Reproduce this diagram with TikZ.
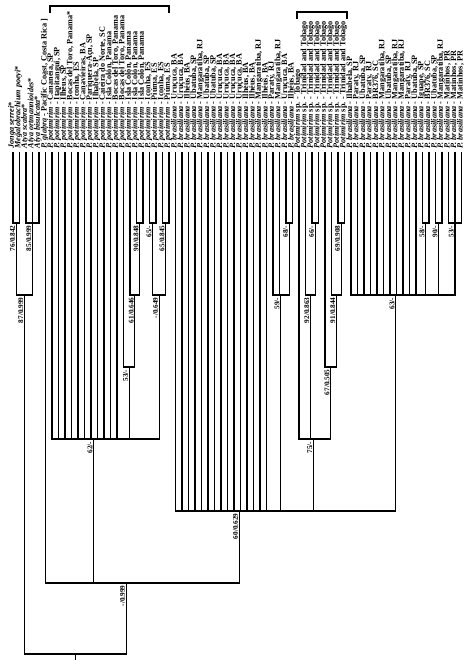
\documentclass[tikz,border=0pt]{standalone}
\usepackage{fontspec}
\setmainfont{Liberation Serif}
\usetikzlibrary{calc}
\tikzset{
    every picture/.style={line join=miter},
    branch/.style={draw=black,line width=1.2pt},
    taxon/.style={rotate=90,anchor=west,inner sep=0.5pt,
      font=\fontsize{8.2}{8.2}\selectfont\bfseries},
    support/.style={rotate=90,anchor=south east,inner xsep=2.5pt,inner ysep=1pt,
      font=\fontsize{7.2}{7.2}\selectfont\bfseries},
    clade/.style={draw=black,line width=1.2pt}
}

\begin{document}
\begin{tikzpicture}[x=1pt,y=-1pt]
  \useasboundingbox (0,0) rectangle (474,668);
  \foreach \i/\txt in {
    0/{\textit{Jonga serrei}*},
    1/{\textit{Megalobrachium poeyi}*},
    2/{\textit{Atya scabra}*},
    3/{\textit{Atya ortmannioides}*},
    4/{\textit{Atya bisulcata}*},
    5/{\textit{P. glabra} - Pacific Coast, Costa Rica ]},
    6/{\textit{P. potimirim} - Cananéia, SP},
    7/{\textit{P. potimirim} - Itapitangui, SP},
    8/{\textit{P. potimirim} - Ilhéus, SP},
    9/{\textit{P. potimirim} - Bocas del Toro, Panama*},
    10/{\textit{P. potimirim} - Iconha, ES},
    11/{\textit{P. potimirim} - Canavieiras, BA},
    12/{\textit{P. potimirim} - Pariquera-Açu, SP},
    13/{\textit{P. potimirim} - Ilhabela, SP},
    14/{\textit{P. potimirim} - Caieira do Norte, SC},
    15/{\textit{P. potimirim} - Isla Colón, Panama},
    16/{\textit{P. potimirim} - Bocas del Toro, Panama},
    17/{\textit{P. potimirim} - Bocas del Toro, Panama},
    18/{\textit{P. potimirim} - Isla Colón, Panama},
    19/{\textit{P. potimirim} - Isla Colón, Panama},
    20/{\textit{P. potimirim} - Isla Colón, Panama},
    21/{\textit{P. potimirim} - Iconha, ES},
    22/{\textit{P. potimirim} - Piúma, ES},
    23/{\textit{P. potimirim} - Iconha, ES},
    24/{\textit{P. potimirim} - Piúma, ES},
    25/{\textit{P. brasiliana} - Uruçuca, BA},
    26/{\textit{P. brasiliana} - Uruçuca, BA},
    27/{\textit{P. brasiliana} - Ilhéus, BA},
    28/{\textit{P. brasiliana} - Ubatuba, SP},
    29/{\textit{P. brasiliana} - Mangaratiba, RJ},
    30/{\textit{P. brasiliana} - Ubatuba, SP},
    31/{\textit{P. brasiliana} - Ubatuba, SP},
    32/{\textit{P. brasiliana} - Uruçuca, BA},
    33/{\textit{P. brasiliana} - Uruçuca, BA},
    34/{\textit{P. brasiliana} - Uruçuca, BA},
    35/{\textit{P. brasiliana} - Uruçuca, BA},
    36/{\textit{P. brasiliana} - Ilhéus, BA},
    37/{\textit{P. brasiliana} - Ilhéus, BA},
    38/{\textit{P. brasiliana} - Mangaratiba, RJ},
    39/{\textit{P. brasiliana} - Ilhéus, BA},
    40/{\textit{P. brasiliana} - Paraty, RJ},
    41/{\textit{P. brasiliana} - Mangaratiba, RJ},
    42/{\textit{P. brasiliana} - Uruçuca, BA},
    43/{\textit{P. brasiliana} - Ilhéus, BA},
    44/{\textit{Potimirim} sp. - Tobago},
    45/{\textit{Potimirim} sp. - Trinidad and Tobago},
    46/{\textit{Potimirim} sp. - Trinidad and Tobago},
    47/{\textit{Potimirim} sp. - Trinidad and Tobago},
    48/{\textit{Potimirim} sp. - Trinidad and Tobago},
    49/{\textit{Potimirim} sp. - Trinidad and Tobago},
    50/{\textit{Potimirim} sp. - Trinidad and Tobago},
    51/{\textit{Potimirim} sp. - Trinidad and Tobago},
    52/{\textit{P. brasiliana} - Ilhabela, SP},
    53/{\textit{P. brasiliana} - Paraty, RJ},
    54/{\textit{P. brasiliana} - Ubatuba, SP},
    55/{\textit{P. brasiliana} - Paraty, RJ},
    56/{\textit{P. brasiliana} - BR376, SC},
    57/{\textit{P. brasiliana} - Mangaratiba, RJ},
    58/{\textit{P. brasiliana} - Ubatuba, SP},
    59/{\textit{P. brasiliana} - Mangaratiba, RJ},
    60/{\textit{P. brasiliana} - Mangaratiba, RJ},
    61/{\textit{P. brasiliana} - Paraty, RJ},
    62/{\textit{P. brasiliana} - Ubatuba, SP},
    63/{\textit{P. brasiliana} - Iguape, SP},
    64/{\textit{P. brasiliana} - BR376, SC},
    65/{\textit{P. brasiliana} - Ubatuba, SP},
    66/{\textit{P. brasiliana} - Mangaratiba, RJ},
    67/{\textit{P. brasiliana} - Matinhos, PR},
    68/{\textit{P. brasiliana} - Matinhos, PR},
    69/{\textit{P. brasiliana} - Matinhos, PR}} {
    \coordinate (l\i) at ({13+6.5*\i},152);
    \node[taxon] (t\i) at ({12+6.5*\i},149) {\txt};
  }

  \coordinate (n76) at (16.25,223);
  \coordinate (n85) at (32.5,223);
  \coordinate (n87) at (24.38,295);
  \coordinate (n90a) at (139.75,223);
  \coordinate (n61) at (134.88,295);
  \coordinate (n53a) at (129.19,367);
  \coordinate (n65a) at (152.75,223);
  \coordinate (n65b) at (165.75,223);
  \coordinate (n649) at (159.25,295);
  \coordinate (n62) at (93.69,439);
  \coordinate (n68) at (289.25,223);
  \coordinate (n59) at (280.58,295);
  \coordinate (n66) at (315.25,223);
  \coordinate (n92) at (310.38,295);
  \coordinate (n69) at (341.25,223);
  \coordinate (n91) at (336.38,295);
  \coordinate (n67) at (330.69,367);
  \coordinate (n75) at (313.35,439);
  \coordinate (n58) at (425.75,223);
  \coordinate (n90b) at (438.75,223);
  \coordinate (n53b) at (455,223);
  \coordinate (n63) at (395.57,295);
  \coordinate (n60) at (239.14,511);
  \coordinate (n999) at (126.11,583);
  \coordinate (root) at (75.24,654);
  \coordinate (rootend) at (75.24,660);

  \foreach \c/\p in {l0/n76,l1/n76,l2/n85,l3/n85,l4/n85,n76/n87,n85/n87,
    l19/n90a,l20/n90a,l18/n61,n90a/n61,l17/n53a,n61/n53a,
    l21/n65a,l22/n65a,l23/n65b,l24/n65b,n65a/n649,n65b/n649,
    n53a/n62,n649/n62,l42/n68,l43/n68,l40/n59,l41/n59,n68/n59,
    l46/n66,l47/n66,l45/n92,n66/n92,l50/n69,l51/n69,l49/n91,n69/n91,
    l48/n67,n91/n67,l44/n75,n92/n75,n67/n75,
    l63/n58,l64/n58,l65/n90b,l66/n90b,l67/n53b,l68/n53b,l69/n53b,
    n58/n63,n90b/n63,n53b/n63,n59/n60,n75/n60,n63/n60,
    l5/n999,n62/n999,n60/n999,n87/root,n999/root}
    \draw[branch] (\c) |- (\p);
  \foreach \k in {6,...,16}
    \draw[branch] (l\k) |- (n62);
  \foreach \k in {25,...,39}
    \draw[branch] (l\k) |- (n60);
  \foreach \k in {52,...,62}
    \draw[branch] (l\k) |- (n63);
  \draw[branch] (root) -- (rootend);

  \node[support] (s76) at (n76) {76/0.842};
  \node[support] (s85) at (n85) {85/0.999};
  \node[support] (s87) at (n87) {87/0.999};
  \node[support] (s90a) at (n90a) {90/0.848};
  \node[support] (s61) at (n61) {61/0.646};
  \node[support] (s53a) at (n53a) {53/-};
  \node[support] (s65a) at (n65a) {65/-};
  \node[support] (s65b) at (n65b) {65/0.845};
  \node[support] (s649) at (n649) {-/0.649};
  \node[support] (s62) at (n62) {62/-};
  \node[support] (s68) at (n68) {68/-};
  \node[support] (s59) at (n59) {59/-};
  \node[support] (s66) at (n66) {66/-};
  \node[support] (s92) at (n92) {92/0.863};
  \node[support] (s69) at (n69) {69/0.908};
  \node[support] (s91) at (n91) {91/0.844};
  \node[support] (s67) at (n67) {67/0.505};
  \node[support] (s75) at (n75) {75/-};
  \node[support] (s58) at (n58) {58/-};
  \node[support] (s90b) at (n90b) {90/-};
  \node[support] (s53b) at (n53b) {53/-};
  \node[support] (s63) at (n63) {63/-};
  \node[support] (s60) at (n60) {60/0.629};
  \node[support] (s999) at (n999) {-/0.999};

  \coordinate (ca) at (50,13);
  \coordinate (cb) at (169,13);
  \draw[clade] (ca) -- ++(0,-7) -| (cb);
  \coordinate (cc) at (297,19);
  \coordinate (cd) at (347,19);
  \draw[clade] (cc) -- ++(0,-7) -| (cd);
\end{tikzpicture}
\end{document}
